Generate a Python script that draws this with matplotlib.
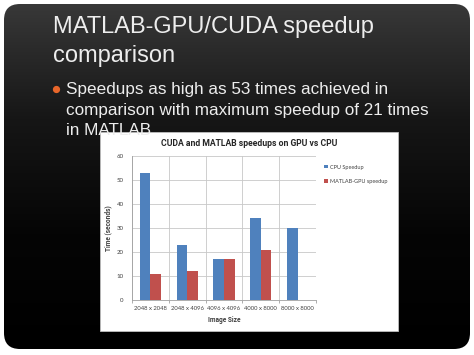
import numpy as np
import matplotlib.pyplot as plt
from matplotlib.colors import LinearSegmentedColormap
from matplotlib.patches import FancyBboxPatch, Rectangle

# data
sizes = ["2048 x 2048", "2048 x 4096", "4096 x 4096", "4000 x 8000", "8000 x 8000"]
cpu_speedup = [53, 23, 17, 34, 30]
matlab_gpu_speedup = [11, 12, 17, 21, 0]
y_ticks = [0, 10, 20, 30, 40, 50, 60]

title_lines = ["MATLAB-GPU/CUDA speedup", "comparison"]
bullet_lines = ["Speedups as high as 53 times achieved in",
                "comparison with maximum speedup of 21 times",
                "in MATLAB"]

W, H = 474, 355
fig = plt.figure(figsize=(W / 100, H / 100), dpi=100)
fig.patch.set_facecolor("white")

# slide background, in pixel coords
bg = fig.add_axes([0, 0, 1, 1])
bg.axis("off")
slide = FancyBboxPatch((4, 4), 466, 345, boxstyle="round,pad=0,rounding_size=16",
                       facecolor="none", edgecolor="none")
bg.add_patch(slide)
grad = np.linspace(0, 1, 256).reshape(-1, 1)
cmap = LinearSegmentedColormap.from_list("g", ["#383838", "#161616", "#050505", "#000000"])
img = bg.imshow(grad, cmap=cmap, extent=(4, 470, 349, 4), aspect="auto")
img.set_clip_path(slide)
bg.set_xlim(0, W)
bg.set_ylim(H, 0)

txt = "#ededed"
for i, line in enumerate(title_lines):
    bg.text(53, 33.3 + 29 * i, line, color=txt, fontsize=17, family="Liberation Sans",
            va="baseline")
bg.plot([56], [89], "o", color="#e8662a", markersize=4.2)
for i, line in enumerate(bullet_lines):
    bg.text(66, 94.3 + 20.3 * i, line, color=txt, fontsize=12.3, family="Liberation Sans",
            va="baseline")

# chart box
bg.add_patch(Rectangle((100, 132), 298, 199, facecolor="white", edgecolor="#bfbfbf", lw=0.6))

font = "Lato"
bold_font = "Roboto"
grey = "#404040"
ax = fig.add_axes([132 / W, (H - 300) / H, (316 - 132) / W, (300 - 156) / H])
x = np.arange(len(sizes))
bw = 1 / 3.5
ax.bar(x - bw / 2, cpu_speedup, bw, color="#4f81bd", label="CPU Speedup", zorder=3)
ax.bar(x + bw / 2, matlab_gpu_speedup, bw, color="#c0504d", label="MATLAB-GPU speedup", zorder=3)
ax.set_xlim(-0.5, len(sizes) - 0.5)
ax.set_ylim(0, 60)
ax.set_yticks(y_ticks)
ax.set_xticks(x)
ax.set_xticklabels(sizes, fontsize=4.2, family=font, color=grey)
ax.tick_params(axis="y", labelsize=4.4, colors=grey, length=0, pad=6)
ax.tick_params(axis="x", length=0, pad=4)
for lab in ax.get_yticklabels():
    lab.set_family(font)
ax.set_xticks(np.arange(len(sizes) + 1) - 0.5, minor=True)
ax.tick_params(axis="x", which="minor", length=2, color="#a0a0a0")
ax.grid(axis="y", color="#c8c8c8", lw=0.6, zorder=0)
ax.grid(axis="x", which="minor", color="#c8c8c8", lw=0.6, zorder=0)
for s in ["top", "right"]:
    ax.spines[s].set_visible(False)
for s in ["left", "bottom"]:
    ax.spines[s].set_color("#a0a0a0")
    ax.spines[s].set_linewidth(0.6)
ax.set_xlabel("Image Size", fontsize=4.7, family=bold_font, fontweight="bold", color=grey, labelpad=4)
ax.set_ylabel("Time (seconds)", fontsize=4.7, family=bold_font, fontweight="bold", color=grey, labelpad=3)

bg.text(249, 143, "CUDA and MATLAB speedups on GPU vs CPU", fontsize=6.2, family=bold_font,
        fontweight="bold", color="#262626", ha="center", va="center")

leg = ax.legend(loc="upper left", bbox_to_anchor=(1.03, 0.96), frameon=False,
                prop={"family": font, "size": 4.0}, handlelength=0.6, handleheight=0.6,
                labelspacing=1.7, handletextpad=0.5, borderpad=0)
for t in leg.get_texts():
    t.set_color(grey)

fig.savefig("out.png", dpi=100)
